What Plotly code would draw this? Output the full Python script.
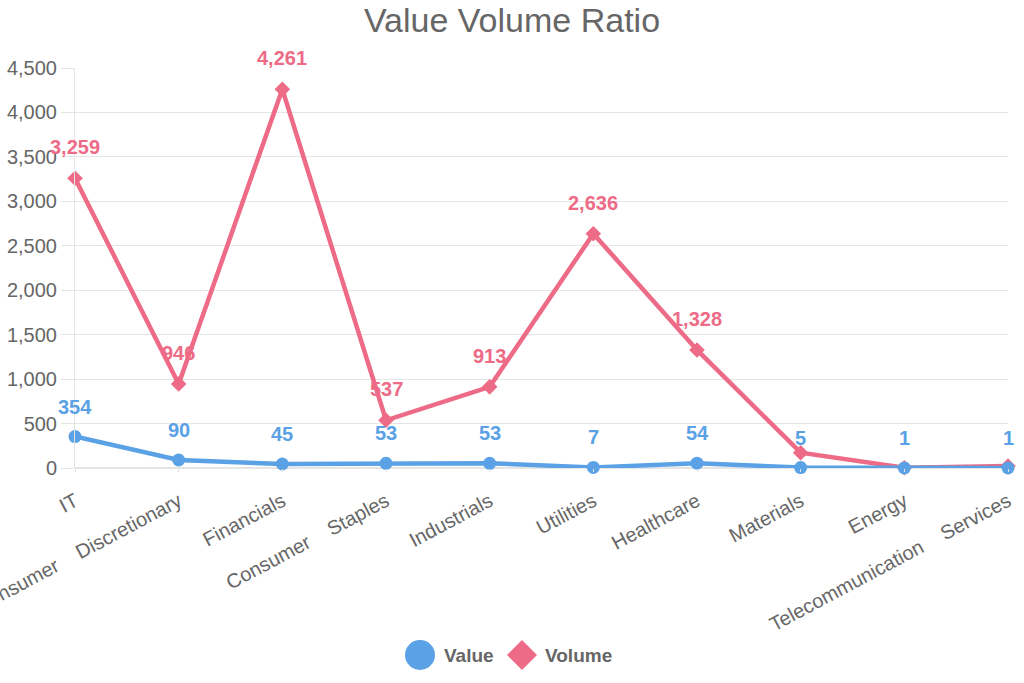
import plotly.graph_objects as go

SP = "\u00a0" * 4
categories = ["IT", "Consumer" + SP + "Discretionary", "Financials",
              "Consumer" + SP + "Staples", "Industrials", "Utilities",
              "Healthcare", "Materials", "Energy",
              "Telecommunication" + SP + "Services"]
value = [354, 90, 45, 53, 53, 7, 54, 5, 1, 1]
volume = [3259, 946, 4261, 537, 913, 2636, 1328, 172, 3, 22]
volume_label_shown = [True, True, True, True, True, True, True, False, False, False]
y_ticks = [0, 500, 1000, 1500, 2000, 2500, 3000, 3500, 4000, 4500]
series_names = ["Value", "Volume"]

BLUE = "#5aa1e5"
PINK = "#ed6b86"
GRAY = "#666666"
FONT = "Liberation Sans, Arial, sans-serif"

W, H = 1024, 683
ML, MR, MT, MB = 75, 16, 68, 215
PW, PH = W - ML - MR, H - MT - MB


def px(xp):
    return (xp - ML) / PW


def py(yp):
    return (H - MB - yp) / PH


fig = go.Figure()
# Volume drawn first so Value sits on top (as in reference)
fig.add_trace(go.Scatter(
    x=categories, y=volume, name="Volume", mode="lines+markers",
    line=dict(color=PINK, width=4.5),
    marker=dict(symbol="diamond", size=12, color=PINK),
    cliponaxis=False, showlegend=False,
))
fig.add_trace(go.Scatter(
    x=categories, y=value, name="Value", mode="lines+markers",
    line=dict(color=BLUE, width=4.5),
    marker=dict(symbol="circle", size=13, color=BLUE),
    cliponaxis=False, showlegend=False,
))

annotations = []
for c, v, show in zip(categories, volume, volume_label_shown):
    if show:
        annotations.append(dict(x=c, y=v, text=f"{v:,}", showarrow=False, yshift=31,
                                font=dict(family=FONT, size=20, color=PINK, weight="bold")))
for c, v in zip(categories, value):
    annotations.append(dict(x=c, y=v, text=f"{v:,}", showarrow=False, yshift=30,
                            font=dict(family=FONT, size=20, color=BLUE, weight="bold")))

# Legend (drawn manually to match the large legend symbols)
shapes = [
    dict(type="circle", xref="paper", yref="paper",
         x0=px(405), x1=px(435), y0=py(670), y1=py(640),
         fillcolor=BLUE, line=dict(width=0)),
    dict(type="path", xref="paper", yref="paper",
         path=(f"M {px(507)} {py(655)} L {px(522)} {py(640)} "
               f"L {px(537)} {py(655)} L {px(522)} {py(670)} Z"),
         fillcolor=PINK, line=dict(width=0)),
]
for name, xl in zip(series_names, [442, 543]):
    annotations.append(dict(xref="paper", yref="paper", x=px(xl), y=py(655),
                            xanchor="left", yanchor="middle", showarrow=False,
                            text=name,
                            font=dict(family=FONT, size=19, color=GRAY, weight="bold")))

fig.update_layout(
    width=W, height=H,
    paper_bgcolor="white", plot_bgcolor="white",
    margin=dict(l=ML, r=MR, t=MT, b=MB, autoexpand=False),
    title=dict(text="Value Volume Ratio", x=0.5, xanchor="center", y=1 - 20 / H, yanchor="middle",
               font=dict(family=FONT, size=34, color=GRAY)),
    font=dict(family=FONT, color=GRAY),
    showlegend=False,
    annotations=annotations,
    shapes=shapes,
)
fig.update_xaxes(
    type="category", range=[0, len(categories) - 1], automargin=False,
    showgrid=False, showline=False, zeroline=False,
    tickangle=-28, tickfont=dict(family=FONT, size=20, color=GRAY),
    ticks="outside", ticklen=3, tickcolor="#e0e0e0", ticklabelstandoff=10,
)
fig.update_yaxes(
    range=[0, 4500], tickvals=y_ticks, ticktext=[f"{t:,}" for t in y_ticks],
    automargin=False,
    showgrid=True, gridcolor="#e5e5e5", gridwidth=1,
    showline=True, linecolor="#e5e5e5", linewidth=1,
    zeroline=True, zerolinecolor="#e5e5e5",
    ticks="outside", ticklen=13, tickcolor="#e5e5e5",
    tickfont=dict(family=FONT, size=20, color=GRAY),
)

fig.write_html("out.html")
